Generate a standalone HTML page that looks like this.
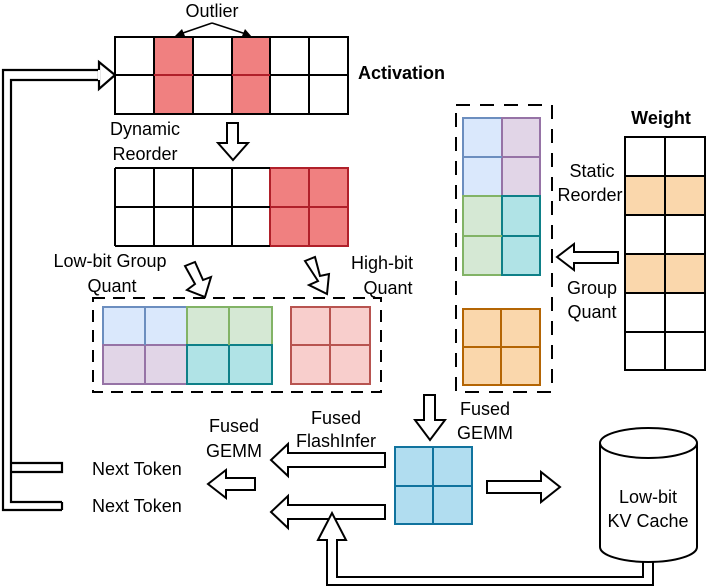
<!DOCTYPE html>
<html><head><style>body{margin:0;background:#fff}svg{display:block}text{font-family:"Liberation Sans",sans-serif;font-size:18px;fill:#000}</style></head>
<body>
<svg width="706" height="586" viewBox="0 0 706 586" xmlns="http://www.w3.org/2000/svg">
<g stroke="#000" stroke-width="2" fill="#fff">
<rect x="154" y="37" width="39" height="77" fill="#f08080" stroke="#b0202a"/>
<rect x="232" y="37" width="38" height="77" fill="#f08080" stroke="#b0202a"/>
<path d="M115,37H348V114H115Z M115,75H154 M193,75H232 M270,75H348 M154,37V114 M193,37V114 M232,37V114 M270,37V114 M309,37V114" fill="none"/>
<path d="M154,75H193 M232,75H270" stroke="#b0202a"/>
</g>
<text x="212" y="17" text-anchor="middle">Outlier</text>
<path d="M212,23 L180,34 M212,23 L246,34" stroke="#000" stroke-width="1.5" fill="none"/>
<polygon points="174,37 182,29 185,36" fill="#000"/>
<polygon points="252,37 242,36 245,29" fill="#000"/>
<text x="358" y="79" style="font-weight:bold">Activation</text>
<g stroke="#000" stroke-width="2.2" fill="none">
<path d="M62,510 H3 V70 H99"/>
<path d="M62,502 H11 V80 H99"/>
<path d="M11,463 H62 V472 H11"/>
<path d="M62,502 V510"/>
</g>
<polygon points="99,62 115,75 99,89" fill="#fff" stroke="#000" stroke-width="2.2"/>
<path d="M99,70V80" stroke="#fff" stroke-width="2"/>
<text x="145" y="135" text-anchor="middle">Dynamic</text>
<text x="145" y="160" text-anchor="middle">Reorder</text>
<polygon points="227,123 238,123 238,143 248,143 233,160 218,143 227,143" fill="#fff" stroke="#000" stroke-width="2"/>
<g stroke="#000" stroke-width="2" fill="none">
<rect x="270" y="168" width="78" height="78" fill="#f08080" stroke="#b0202a"/>
<path d="M115,168H270 M115,207H270 M115,246H270 M115,168V246 M154,168V246 M193,168V246 M232,168V246"/>
<path d="M270,207H348 M309,168V246" stroke="#b0202a"/>
</g>
<text x="110" y="267" text-anchor="middle">Low-bit Group</text>
<text x="112" y="292" text-anchor="middle">Quant</text>
<text x="382" y="269" text-anchor="middle">High-bit</text>
<text x="388" y="294" text-anchor="middle">Quant</text>
<polygon points="185,266 195,262 203,280 211,277 205,297 187,290 195,284" fill="#fff" stroke="#000" stroke-width="2"/>
<polygon points="305,261 315,257 320,276 329,274 327,294 309,285 318,281" fill="#fff" stroke="#000" stroke-width="2"/>
<rect x="93" y="298" width="288" height="94" fill="none" stroke="#000" stroke-width="2" stroke-dasharray="12,8"/>
<g stroke-width="2">
<rect x="103" y="307" width="84" height="38" fill="#dae8fc" stroke="#6c8ebf"/>
<rect x="103" y="345" width="84" height="39" fill="#e1d5e7" stroke="#9673a6"/>
<rect x="187" y="307" width="85" height="38" fill="#d5e8d4" stroke="#82b366"/>
<rect x="187" y="345" width="85" height="39" fill="#b0e3e6" stroke="#0e8088"/>
<path d="M145,307V345" stroke="#6c8ebf"/><path d="M145,345V384" stroke="#9673a6"/>
<path d="M229,307V345" stroke="#82b366"/><path d="M229,345V384" stroke="#0e8088"/>
<rect x="291" y="307" width="79" height="77" fill="#f8cecc" stroke="#b85450"/>
<path d="M330,307V384 M291,345H370" stroke="#b85450"/>
</g>
<rect x="456" y="105" width="96" height="287" fill="none" stroke="#000" stroke-width="2" stroke-dasharray="14,10"/>
<g stroke-width="2">
<rect x="463" y="118" width="39" height="78" fill="#dae8fc" stroke="#6c8ebf"/>
<rect x="502" y="118" width="38" height="78" fill="#e1d5e7" stroke="#9673a6"/>
<rect x="463" y="196" width="39" height="79" fill="#d5e8d4" stroke="#82b366"/>
<rect x="502" y="196" width="38" height="79" fill="#b0e3e6" stroke="#0e8088"/>
<path d="M463,157H502" stroke="#6c8ebf"/><path d="M502,157H540" stroke="#9673a6"/>
<path d="M463,236H502" stroke="#82b366"/><path d="M502,236H540" stroke="#0e8088"/>
<rect x="463" y="309" width="77" height="76" fill="#fad7ac" stroke="#b46504"/>
<path d="M501,309V385 M463,347H540" stroke="#b46504"/>
</g>
<text x="661" y="124" text-anchor="middle" style="font-weight:bold">Weight</text>
<g stroke-width="2">
<rect x="625" y="176" width="80" height="39" fill="#fad7ac" stroke="#b46504"/>
<rect x="625" y="254" width="80" height="39" fill="#fad7ac" stroke="#b46504"/>
<path d="M625,137H705V370H625Z M625,176H705 M625,215H705 M625,254H705 M625,293H705 M625,332H705 M665,137V370" fill="none" stroke="#000"/>
</g>
<text x="592" y="177" text-anchor="middle">Static</text>
<text x="590" y="201" text-anchor="middle">Reorder</text>
<text x="592" y="294" text-anchor="middle">Group</text>
<text x="592" y="318" text-anchor="middle">Quant</text>
<polygon points="557,257 574,244 574,252 618,252 618,263 574,263 574,270" fill="#fff" stroke="#000" stroke-width="2"/>
<polygon points="424,395 435,395 435,420 445,420 430,440 415,420 424,420" fill="#fff" stroke="#000" stroke-width="2"/>
<text x="485" y="415" text-anchor="middle">Fused</text>
<text x="485" y="439" text-anchor="middle">GEMM</text>
<rect x="395" y="447" width="77" height="77" fill="#b1ddf0" stroke="#10739e" stroke-width="2"/>
<path d="M433,447V524 M395,486H472" stroke="#10739e" stroke-width="2"/>
<polygon points="487,481 541,481 541,472 560,487 541,502 541,493 487,493" fill="#fff" stroke="#000" stroke-width="2"/>
<path d="M600,443 V547 A48.5,15 0 0 0 697,547 V443" fill="#fff" stroke="#000" stroke-width="2"/>
<ellipse cx="648.5" cy="443" rx="48.5" ry="15" fill="#fff" stroke="#000" stroke-width="2"/>
<text x="648" y="503" text-anchor="middle">Low-bit</text>
<text x="648" y="527" text-anchor="middle">KV Cache</text>
<polygon points="385,453 288,453 288,444 271,460 288,476 288,467 385,467" fill="#fff" stroke="#000" stroke-width="2"/>
<polygon points="385,505 288,505 288,496 271,512 288,528 288,519 385,519" fill="#fff" stroke="#000" stroke-width="2"/>
<text x="336" y="424" text-anchor="middle">Fused</text>
<text x="336" y="447" text-anchor="middle">FlashInfer</text>
<text x="234" y="432" text-anchor="middle">Fused</text>
<text x="234" y="457" text-anchor="middle">GEMM</text>
<polygon points="255,478 226,478 226,470 208,484 226,498 226,490 255,490" fill="#fff" stroke="#000" stroke-width="2"/>
<text x="92" y="475">Next Token</text>
<text x="92" y="512">Next Token</text>
<path d="M653,562 V585 H327 V540 M643,562 V577 H337 V540" fill="none" stroke="#000" stroke-width="2"/>
<polygon points="318,540 332,513 346,540" fill="#fff" stroke="#000" stroke-width="2"/>
<path d="M328,540H336" stroke="#fff" stroke-width="2"/>
</svg>
</body></html>
